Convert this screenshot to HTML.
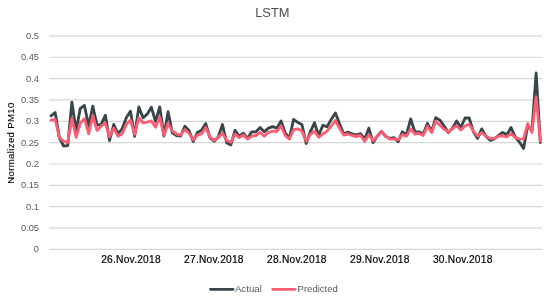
<!DOCTYPE html>
<html><head><meta charset="utf-8"><title>LSTM</title>
<style>
html,body{margin:0;padding:0;background:#fff;}
body{width:550px;height:297px;overflow:hidden;font-family:"Liberation Sans",sans-serif;}
svg{display:block;font-family:"Liberation Sans",sans-serif;}
.grid line{stroke:#d6d6d6;stroke-width:1.2;}
.yl text{font-size:9.3px;fill:#595959;text-anchor:end;}
.xl text{font-size:10.2px;fill:#000;text-anchor:middle;letter-spacing:0.24px;stroke:#000;stroke-width:0.2px;}
</style></head><body>
<svg width="550" height="297" viewBox="0 0 550 297">
<rect width="550" height="297" fill="#fff"/>
<text x="272.4" y="16.6" text-anchor="middle" font-size="12.9" fill="#505050">LSTM</text>
<g class="grid"><line x1="48.9" x2="542.4" y1="249.40" y2="249.40"/><line x1="48.9" x2="542.4" y1="228.05" y2="228.05"/><line x1="48.9" x2="542.4" y1="206.70" y2="206.70"/><line x1="48.9" x2="542.4" y1="185.35" y2="185.35"/><line x1="48.9" x2="542.4" y1="164.00" y2="164.00"/><line x1="48.9" x2="542.4" y1="142.65" y2="142.65"/><line x1="48.9" x2="542.4" y1="121.30" y2="121.30"/><line x1="48.9" x2="542.4" y1="99.95" y2="99.95"/><line x1="48.9" x2="542.4" y1="78.60" y2="78.60"/><line x1="48.9" x2="542.4" y1="57.25" y2="57.25"/><line x1="48.9" x2="542.4" y1="35.90" y2="35.90"/></g>
<g class="yl"><text x="39" y="252.30">0</text><text x="39" y="230.95">0.05</text><text x="39" y="209.60">0.1</text><text x="39" y="188.25">0.15</text><text x="39" y="166.90">0.2</text><text x="39" y="145.55">0.25</text><text x="39" y="124.20">0.3</text><text x="39" y="102.85">0.35</text><text x="39" y="81.50">0.4</text><text x="39" y="60.15">0.45</text><text x="39" y="38.80">0.5</text></g>
<g class="xl"><text x="131.00" y="263.0">26.Nov.2018</text><text x="213.94" y="263.0">27.Nov.2018</text><text x="296.88" y="263.0">28.Nov.2018</text><text x="379.82" y="263.0">29.Nov.2018</text><text x="462.76" y="263.0">30.Nov.2018</text></g>
<text transform="translate(14.4,143) rotate(-90)" text-anchor="middle" font-size="9.6" letter-spacing="0.35" fill="#000" stroke="#000" stroke-width="0.1">Normalized PM10</text>
<polyline fill="none" stroke="#38454a" stroke-width="2.85" stroke-linejoin="round" stroke-linecap="round" points="50.99,115.80 55.17,112.50 59.36,137.50 63.54,146.00 67.72,145.60 71.90,102.20 76.08,131.00 80.27,108.40 84.45,105.50 88.63,126.00 92.81,106.20 97.00,125.10 101.18,124.40 105.36,115.30 109.54,140.50 113.72,124.50 117.91,133.60 122.09,129.00 126.27,117.80 130.45,111.30 134.64,136.20 138.82,106.90 143.00,117.80 147.18,114.20 151.36,107.30 155.55,121.50 159.73,106.90 163.91,136.00 168.09,111.70 172.28,132.80 176.46,135.50 180.64,136.00 184.82,126.20 189.00,130.60 193.19,141.50 197.37,132.50 201.55,130.30 205.73,123.60 209.91,137.60 214.10,141.30 218.28,136.90 222.46,124.50 226.64,142.70 230.83,144.90 235.01,130.30 239.19,136.20 243.37,133.20 247.55,138.40 251.74,131.80 255.92,131.80 260.10,127.50 264.28,131.80 268.47,128.20 272.65,126.70 276.83,128.20 281.01,120.90 285.19,132.80 289.38,138.40 293.56,119.50 297.74,122.40 301.92,124.50 306.11,143.50 310.29,131.80 314.47,122.80 318.65,135.50 322.83,125.30 327.02,126.70 331.20,119.50 335.38,112.90 339.56,123.80 343.75,134.00 347.93,132.10 352.11,134.00 356.29,135.00 360.47,133.60 364.66,139.10 368.84,128.20 373.02,142.70 377.20,136.20 381.39,131.50 385.57,136.20 389.75,138.50 393.93,137.60 398.11,141.70 402.30,131.80 406.48,134.70 410.66,119.00 414.84,131.80 419.03,131.80 423.21,134.00 427.39,123.40 431.57,131.50 435.75,117.60 439.94,120.20 444.12,126.00 448.30,132.50 452.48,128.20 456.66,120.90 460.85,127.50 465.03,118.00 469.21,118.00 473.39,131.80 477.58,138.40 481.76,128.90 485.94,136.20 490.12,140.30 494.30,138.80 498.49,135.50 502.67,132.50 506.85,134.70 511.03,127.50 515.22,136.90 519.40,142.00 523.58,148.40 527.76,125.00 531.94,131.00 536.13,73.00 540.31,142.50"/>
<polyline fill="none" stroke="#fb5d72" stroke-width="2.85" stroke-linejoin="round" stroke-linecap="round" points="50.99,120.20 55.17,119.50 59.36,137.30 63.54,141.30 67.72,142.30 71.90,118.40 76.08,137.40 80.27,123.10 84.45,118.70 88.63,133.60 92.81,115.80 97.00,130.40 101.18,126.00 105.36,123.10 109.54,136.90 113.72,128.20 117.91,136.20 122.09,134.00 126.27,124.40 130.45,120.00 134.64,134.30 138.82,117.80 143.00,122.90 147.18,122.20 151.36,121.00 155.55,127.30 159.73,117.10 163.91,135.30 168.09,123.60 172.28,130.90 176.46,134.20 180.64,135.00 184.82,129.50 189.00,133.20 193.19,139.80 197.37,135.20 201.55,133.90 205.73,127.40 209.91,136.90 214.10,140.30 218.28,137.60 222.46,133.30 226.64,140.50 230.83,142.30 235.01,134.00 239.19,137.60 243.37,135.00 247.55,139.10 251.74,136.20 255.92,135.50 260.10,132.50 264.28,136.20 268.47,132.50 272.65,131.10 276.83,131.50 281.01,126.00 285.19,135.50 289.38,139.10 293.56,129.60 297.74,128.90 301.92,131.10 306.11,141.30 310.29,134.70 314.47,131.10 318.65,137.30 322.83,134.00 327.02,131.10 331.20,126.00 335.38,120.50 339.56,128.20 343.75,135.00 347.93,134.00 352.11,135.50 356.29,136.50 360.47,135.50 364.66,141.30 368.84,134.70 373.02,140.80 377.20,136.20 381.39,131.50 385.57,136.20 389.75,139.10 393.93,138.80 398.11,139.80 402.30,134.70 406.48,136.20 410.66,128.90 414.84,134.00 419.03,133.30 423.21,135.50 427.39,126.30 431.57,132.50 435.75,121.30 439.94,125.30 444.12,129.10 448.30,131.80 452.48,128.90 456.66,125.70 460.85,130.00 465.03,126.00 469.21,124.30 473.39,131.10 477.58,136.20 481.76,132.50 485.94,136.20 490.12,138.40 494.30,138.40 498.49,136.20 502.67,135.90 506.85,136.90 511.03,133.60 515.22,137.40 519.40,138.80 523.58,139.20 527.76,123.60 531.94,132.40 536.13,96.60 540.31,141.00"/>
<line x1="210.5" x2="233" y1="289.35" y2="289.35" stroke="#38454a" stroke-width="2.85" stroke-linecap="round"/>
<text x="234.9" y="292.2" font-size="9.7" fill="#595959">Actual</text>
<line x1="272.7" x2="295" y1="289.35" y2="289.35" stroke="#fb5d72" stroke-width="2.85" stroke-linecap="round"/>
<text x="297.6" y="292.2" font-size="9.5" fill="#595959">Predicted</text>
</svg>
</body></html>
